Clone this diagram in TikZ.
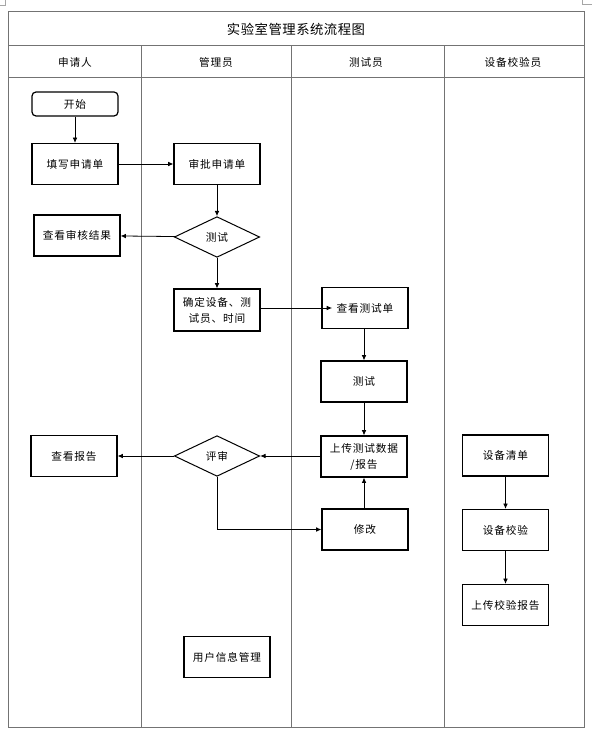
\documentclass[tikz,border=0pt]{standalone}
\usepackage{fontspec}
\newfontfamily\cjk[LetterSpace=8]{Noto Sans CJK SC}
\newfontfamily\cjktitle[LetterSpace=4]{Noto Sans CJK SC}
\usetikzlibrary{arrows.meta,shapes.geometric}
\begin{document}
\begin{tikzpicture}[x=0.75pt,y=-0.75pt,
  frame/.style={draw=black!55, line width=0.75pt},
  boxtext/.style={font=\cjk\fontsize{8pt}{12pt}\selectfont, align=center},
  proc/.style={boxtext, draw=black, line width=0.9pt, minimum width=64.5pt, minimum height=30.75pt, inner sep=1pt},
  startbox/.style={proc, rounded corners=3pt, minimum height=18pt},
  decision/.style={boxtext, diamond, draw=black, line width=0.75pt, minimum width=64pt, minimum height=30.5pt, inner sep=0pt, aspect=2},
  head/.style={font=\cjk\fontsize{8pt}{12pt}\selectfont},
  arr/.style={-{Latex[length=4pt,width=3.5pt]}, line width=0.6pt, draw=black},
  cornermark/.style={draw=black!35, line width=0.5pt}
]
\useasboundingbox (0,0) rectangle (592,734);
% page corner marks
\draw[cornermark] (0,5) -- (5,5) -- (5,0);
\draw[cornermark] (592,4) -- (582,4) -- (582,0);
% frame
\draw[frame] (8,12) rectangle (584,727);
\draw[frame] (8,46) -- (584,46);
\draw[frame] (8,78) -- (584,78);
\draw[frame] (141,46) -- (141,727);
\draw[frame] (291,46) -- (291,727);
\draw[frame] (444,46) -- (444,727);
% title and headers
\node[font=\cjktitle\fontsize{10pt}{12pt}\selectfont] (title) at (296,29) {实验室管理系统流程图};
\node[head] (h1) at (75,62) {申请人};
\node[head] (h2) at (216,62) {管理员};
\node[head] (h3) at (366,62) {测试员};
\node[head] (h4) at (513,62) {设备校验员};
% nodes
\node[startbox] (start) at (75,104) {开始};
\node[proc] (fill) at (75,164) {填写申请单};
\node[proc] (approve) at (217,164) {审批申请单};
\node[proc] (viewres) at (77,235.5) {查看审核结果};
\node[decision] (d1) at (217,237) {测试};
\node[proc, minimum height=31.5pt] (det) at (217,310) {确定设备、测\\试员、时间};
\node[proc] (viewtest) at (365,308) {查看测试单};
\node[proc] (test) at (364,381.5) {测试};
\node[proc] (upload) at (364,456.5) {上传测试数据\\/报告};
\node[proc] (modify) at (365,529.5) {修改};
\node[decision] (d2) at (217,456) {评审};
\node[proc] (viewrep) at (74,456) {查看报告};
\node[proc] (equip) at (505.5,455.5) {设备清单};
\node[proc] (calib) at (505.5,530) {设备校验};
\node[proc] (upcal) at (505.5,605) {上传校验报告};
\node[proc] (user) at (227,657) {用户信息管理};
% connectors
\draw[arr] (start) -- (fill);
\draw[arr] (fill) -- (approve);
\draw[arr] (approve) -- (d1);
\draw[arr] (d1) -- (viewres);
\draw[arr] (d1) -- (det);
\draw[arr, shorten >=-8pt] (det.east |- viewtest.west) -- (viewtest.west);
\draw[arr] (viewtest.south -| test.north) -- (test.north);
\draw[arr] (test) -- (upload);
\draw[arr] (modify.north -| upload.south) -- (upload.south);
\draw[arr] (upload.west |- d2.east) -- (d2.east);
\draw[arr] (d2) -- (viewrep);
\draw[arr] (d2.south) |- (modify.west);
\draw[arr] (equip) -- (calib);
\draw[arr] (calib) -- (upcal);
\end{tikzpicture}
\end{document}
